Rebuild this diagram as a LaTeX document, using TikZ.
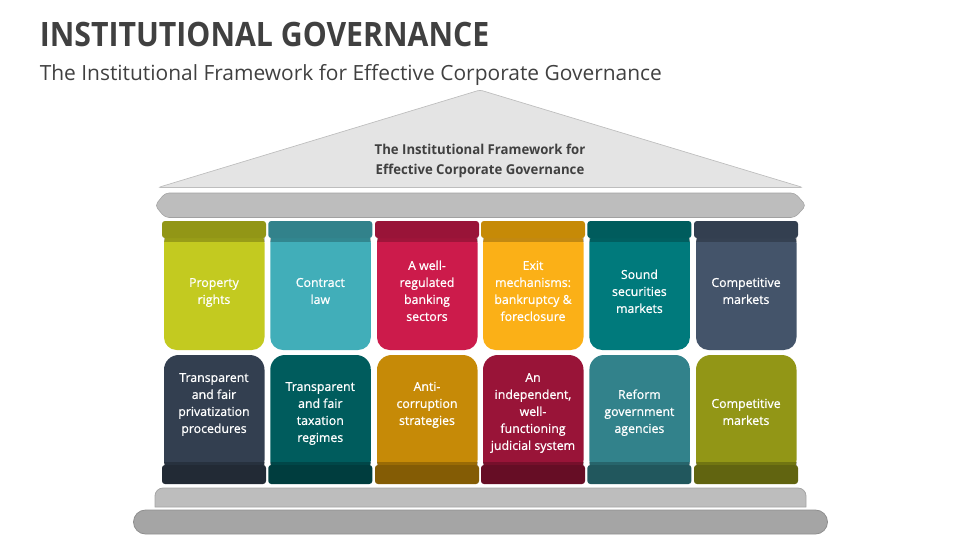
\documentclass[tikz,border=0pt]{standalone}
\usepackage{fontspec}
\setmainfont{Open Sans}
\newfontfamily\heavyfont[FakeStretch=.9]{Open Sans Bold}
\newfontfamily\roofont[FakeStretch=.968]{Open Sans Bold}
\font\colfont="Open Sans:embolden=0.8" at 9.25pt
\definecolor{titlegray}{HTML}{404040}
\definecolor{roofgray}{HTML}{E4E4E4}
\definecolor{beamgray}{HTML}{BDBDBD}
\definecolor{plinthgray}{HTML}{A5A5A5}
\definecolor{linegray}{HTML}{8F8F8F}
\definecolor{lime}{HTML}{C3CA20}
\definecolor{limedark}{HTML}{929616}
\definecolor{limedeep}{HTML}{616410}
\definecolor{aqua}{HTML}{41AEB9}
\definecolor{aquadark}{HTML}{32828B}
\definecolor{aquadeep}{HTML}{21575D}
\definecolor{crimson}{HTML}{CC1B4B}
\definecolor{crimsondark}{HTML}{991438}
\definecolor{crimsondeep}{HTML}{660D25}
\definecolor{amber}{HTML}{FBB017}
\definecolor{amberdark}{HTML}{C68A07}
\definecolor{amberdeep}{HTML}{845C05}
\definecolor{sea}{HTML}{007A7C}
\definecolor{seadark}{HTML}{005C5D}
\definecolor{seadeep}{HTML}{003D3E}
\definecolor{slate}{HTML}{44546A}
\definecolor{slatedark}{HTML}{333F50}
\definecolor{slatedeep}{HTML}{222A35}
\tikzset{
  coltext/.style={text=white,align=center,font=\fontsize{9.25}{12.75}\selectfont\colfont,inner sep=0pt},
  capbox/.style={rounded corners=2.2pt},
  capshade/.style={black,opacity=.22},
}
\begin{document}
\begin{tikzpicture}[x=.75pt,y=-.75pt]
    \useasboundingbox (0,0) rectangle (960,540);
    \node[anchor=base west,inner sep=0pt,text=titlegray,font=\heavyfont\fontsize{25.2}{30}\selectfont] (title) at (39.5,46) {INSTITUTIONAL GOVERNANCE};
    \node[anchor=base west,inner sep=0pt,text=titlegray,font=\fontsize{15.7}{19}\selectfont] (subtitle) at (39.5,80) {The Institutional Framework for Effective Corporate Governance};
    % roof and beam
    \draw[fill=roofgray,draw=beamgray,line width=.5pt,rounded corners=2pt] (158,187.5) -- (480,90) -- (803,187.5) -- cycle;
    \node[align=center,inner sep=0pt,text=titlegray,font=\roofont\fontsize{10.2}{14.6}\selectfont] (roofLabel) at (480,161) {The Institutional Framework for\\Effective Corporate Governance};
    \draw[fill=beamgray,draw=beamgray!85!black,line width=.4pt,rounded corners=3pt] (165,193) -- (795,193) -- (806,205.5) -- (795,217.5) -- (165,217.5) -- (155,205.5) -- cycle;
    % upper columns
    \foreach \name/\x/\body/\capc/\y/\txt in {
      a/164/lime/limedark/292/{Property\\rights},
      b/270.3/aqua/aquadark/292/{Contract\\law},
      c/377/crimson/crimsondark/292/{A well-\\regulated\\banking\\sectors},
      d/483/amber/amberdark/292/{Exit\\mechanisms:\\bankruptcy \&\\foreclosure},
      e/589.4/sea/seadark/292.5/{Sound\\securities\\markets},
      f/696/slate/slatedark/292/{Competitive\\markets}} {
      \fill[\body,rounded corners=9.5pt] (\x,230) -- (\x,350) -- (\x+100.5,350) -- (\x+100.5,230) -- cycle;
      \fill[capshade] (\x,236) rectangle (\x+100.5,241.5);
      \fill[\capc,capbox] (\x-2,221) rectangle (\x+102,238);
      \node[coltext] (up\name) at (\x+50,\y) {\strut\txt\strut};
    }
    % lower columns
    \foreach \name/\x/\body/\capc/\y/\txt in {
      a/164/slatedark/slatedeep/404/{Transparent\\and fair\\privatization\\procedures},
      b/270.3/seadark/seadeep/413/{Transparent\\and fair\\taxation\\regimes},
      c/377/amberdark/amberdeep/404.5/{Anti-\\corruption\\strategies},
      d/483/crimsondark/crimsondeep/412.5/{An\\independent,\\well-\\functioning\\judicial system},
      e/589.4/aquadark/aquadeep/412.5/{Reform\\government\\agencies},
      f/696/limedark/limedeep/413/{Competitive\\markets}} {
      \fill[\body,rounded corners=11pt] (\x,475) -- (\x,355) -- (\x+100.5,355) -- (\x+100.5,475) -- cycle;
      \fill[capshade] (\x,462) rectangle (\x+100.5,466);
      \fill[\capc,capbox] (\x-2,465) rectangle (\x+102,484);
      \node[coltext] (low\name) at (\x+50,\y) {\strut\txt\strut};
    }
    % base and plinth
    \draw[fill=beamgray,draw=linegray!80,line width=.6pt] (155,507) [rounded corners=6pt] -- (155,488) -- (806,488) [sharp corners] -- (806,507) -- cycle;
    \draw[fill=plinthgray,draw=linegray,line width=.6pt,rounded corners=9pt] (133.5,510) rectangle (827.5,534);
\end{tikzpicture}
\end{document}
